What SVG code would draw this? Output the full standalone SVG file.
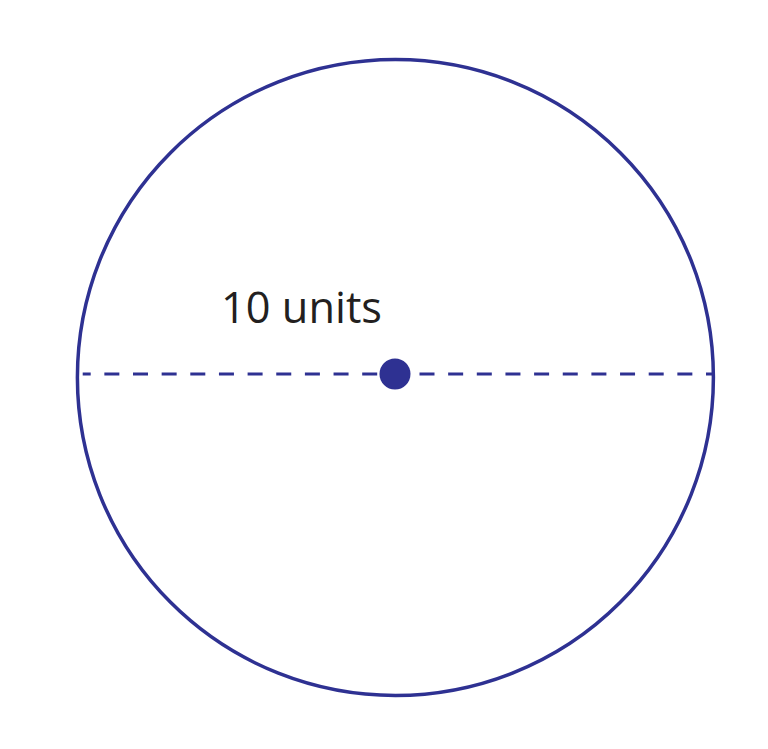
<svg xmlns="http://www.w3.org/2000/svg" width="768" height="749" viewBox="0 0 768 749">
<style>
.outline{fill:none;stroke:#2e3192;stroke-width:3.5}
.dash{stroke:#2e3192;stroke-width:3;stroke-dasharray:15 13.65;stroke-dashoffset:7}
.dot{fill:#2e3192}
.label{font-family:"Open Sans","Liberation Sans",sans-serif;font-size:44px;fill:#231f20}
</style>
<rect width="768" height="749" fill="#ffffff"/>
<g id="circle">
<circle class="outline" cx="395.4" cy="377.5" r="318"/>
</g>
<g id="connectors">
<line class="dash" x1="82.7" y1="374" x2="713" y2="374"/>
</g>
<g id="center">
<circle class="dot" cx="395" cy="374" r="15.5"/>
</g>
<g id="label">
<text class="label" x="221" y="323" textLength="161" lengthAdjust="spacingAndGlyphs">10 units</text>
</g>
</svg>
